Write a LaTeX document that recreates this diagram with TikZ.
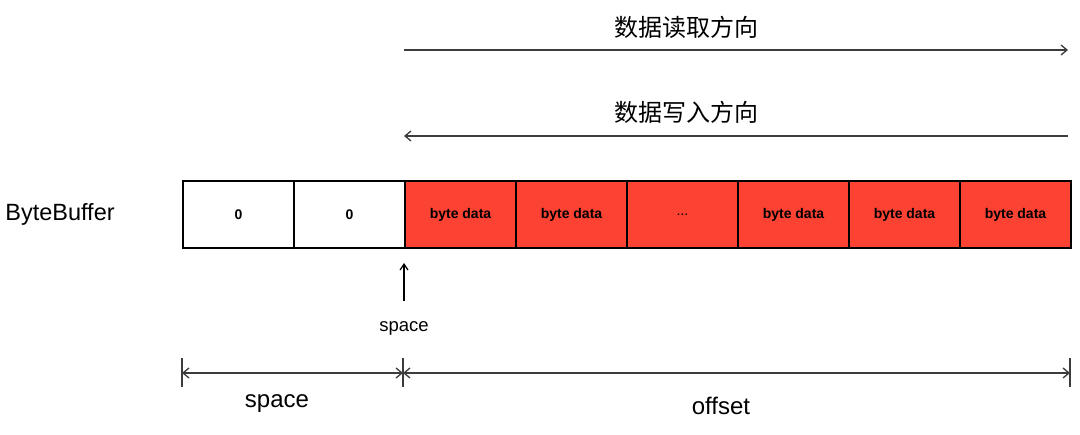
\documentclass[tikz,border=0pt]{standalone}
\usepackage{fontspec}
\setmainfont{Liberation Sans}
\newfontfamily\cjk{Noto Sans CJK SC}
\usetikzlibrary{arrows.meta}
\definecolor{cellred}{RGB}{252,66,50}
\definecolor{linegray}{RGB}{60,60,60}
\begin{document}
\begin{tikzpicture}[x=1pt,y=-1pt,
  cell/.style={draw=black,line width=2pt,minimum width=111pt,minimum height=67pt,inner sep=0pt,anchor=north west,font=\fontsize{14}{16}\selectfont\bfseries},
  redcell/.style={cell,fill=cellred},
  arr/.style={draw=linegray,line width=1.3pt,-{Straight Barb[length=6pt,width=10pt]}},
  darr/.style={draw=linegray,line width=1.3pt,{Straight Barb[length=6pt,width=10pt]}-{Straight Barb[length=6pt,width=10pt]}},
  tick/.style={draw=linegray,line width=1.3pt},
  lbl/.style={inner sep=0pt}]
\useasboundingbox (0,0) rectangle (1080,435);
% direction arrows
\node[lbl,font=\cjk\fontsize{24}{28}\selectfont] (rt) at (686,27) {数据读取方向};
\coordinate (r1) at (404,50);
\coordinate (r2) at (1068,50);
\draw[arr] (r1) -- (r2);
\node[lbl,font=\cjk\fontsize{24}{28}\selectfont] (wt) at (686,112) {数据写入方向};
\coordinate (w1) at (1068,136);
\coordinate (w2) at (404,136);
\draw[arr] (w1) -- (w2);
% buffer
\node[lbl,font=\fontsize{23.5}{28}\selectfont] (bb) at (60,214) {ByteBuffer};
\node[cell] (c1) at (182,180) {0};
\node[cell] (c2) at (293,180) {0};
\node[redcell] (c3) at (404,180) {byte data};
\node[redcell] (c4) at (515,180) {byte data};
\node[redcell] (c5) at (626,180) {\mdseries...};
\node[redcell] (c6) at (737,180) {byte data};
\node[redcell] (c7) at (848,180) {byte data};
\node[redcell] (c8) at (959,180) {byte data};
% space pointer
\node[lbl,font=\fontsize{18.5}{22}\selectfont] (sp) at (404,328) {space};
\coordinate (spt) at (404,263);
\draw[draw=black,line width=1.2pt,-{Straight Barb[length=6pt,width=8pt]}] (404,301) -- (spt);
% dimension lines
\coordinate (d1) at (182,373);
\coordinate (d2) at (403,373);
\coordinate (d3) at (1070,373);
\draw[tick] (182,358) -- (182,387);
\draw[tick] (403,358) -- (403,387);
\draw[tick] (1070,358) -- (1070,387);
\draw[darr] (d1) -- (d2);
\draw[darr] (d2) -- (d3);
\node[lbl,font=\fontsize{24}{28}\selectfont] (sl) at (277,404) {space};
\node[lbl,font=\fontsize{24}{28}\selectfont] (ol) at (721,406) {offset};
\end{tikzpicture}
\end{document}
